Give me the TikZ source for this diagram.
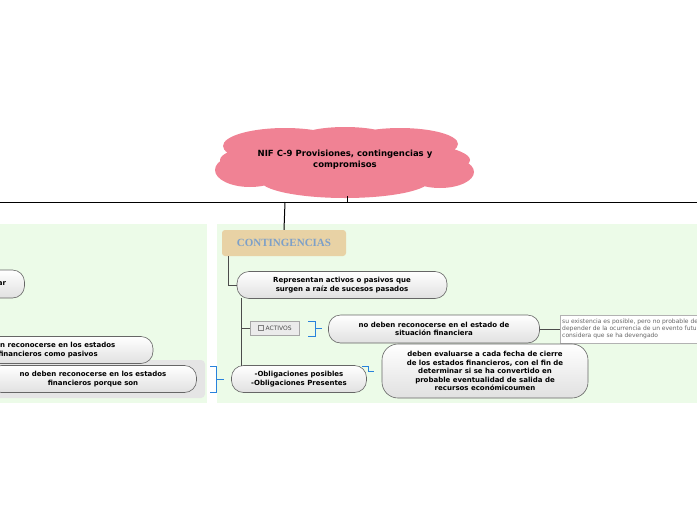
\documentclass[tikz,border=0pt]{standalone}
\usepackage{fontspec}
\setmainfont{DejaVu Sans}
\definecolor{pan}{RGB}{236,251,232}
\definecolor{pink}{RGB}{240,130,148}
\definecolor{tan}{RGB}{232,210,165}
\definecolor{cblue}{RGB}{125,160,200}
\definecolor{bbr}{RGB}{40,130,220}
\begin{document}
\begin{tikzpicture}[x=1pt,y=-1pt,
 pill/.style={draw=black!60,rounded corners=12pt,top color=white,bottom color=black!12,font=\fontsize{7}{8.5}\selectfont\bfseries,align=center,inner sep=3pt,line width=0.6pt},
 ln/.style={draw=black!70,line width=0.6pt},
 br/.style={draw=bbr,line width=1pt}]
\useasboundingbox (0,0) rectangle (697,520);
\clip (0,0) rectangle (697,520);
\fill[pan] (0,224) rectangle (207,403);
\fill[pan] (217,224) rectangle (697,403);
\fill[pink] (345,160) ellipse [x radius=125,y radius=22]
 (285,146) ellipse [x radius=62,y radius=18]
 (400,144) ellipse [x radius=58,y radius=16]
 (345,137) ellipse [x radius=45,y radius=10]
 (250,170) ellipse [x radius=35,y radius=17]
 (440,172) ellipse [x radius=34,y radius=16]
 (345,180) ellipse [x radius=85,y radius=18];
\node[align=center,font=\fontsize{8.5}{11}\selectfont\bfseries] (root) at (345,160) {NIF C-9 Provisiones, contingencias y\\compromisos};
\draw[line width=1pt] (0,202) -- (697,202);
\draw[line width=1pt] (347,196) -- (347,202);
\node[fill=tan,rounded corners=3pt,minimum width=124pt,minimum height=26pt,font=\fontsize{11}{12}\selectfont\bfseries\rmfamily,text=cblue] (cont) at (284,243) {\fontspec{Liberation Serif}CONTINGENCIAS};
\draw[line width=1pt] (285,202) -- (cont.north);
% left
\node[pill,minimum width=65pt,minimum height=28pt] (ar) at (-8,284) {\hspace*{20pt}ar};
\fill[black!10,rounded corners=4pt] (-5,360) rectangle (205,398);
\node[pill,minimum width=210pt,minimum height=27pt] (rec) at (48,350) {deben reconocerse en los estados\\financieros como pasivos};
\node[pill,minimum width=207pt,minimum height=27pt] (nod) at (93,379) {no deben reconocerse en los estados\\financieros porque son};
\draw[br] (210,366) -- (216,366) -- (216,392) -- (210,392) (216,379) -- (224,379);
% right
\node[pill,minimum width=210pt,minimum height=27pt] (rep) at (342,285) {Representan activos o pasivos que\\surgen a raíz de sucesos pasados};
\draw[ln] (228,256) |- (rep.west);
\node[pill,minimum width=135pt,minimum height=27pt] (obl) at (299,379) {-Obligaciones posibles\\-Obligaciones Presentes};
\node[draw=black!35,fill=black!8,font=\fontsize{6}{7}\selectfont,text=black!70,minimum width=49pt,minimum height=14pt,inner sep=1pt] (act) at (275,328) {\tikz\draw[black!50,line width=0.4pt] (0,0) rectangle (5pt,5pt); ACTIVOS};
\draw[ln] (241,298) -- (241,366);
\draw[ln] (241,328) -- (act.west);
\draw[br] (308,321) -- (315,321) -- (315,336) -- (308,336) (315,328) -- (322,328);
\node[pill,minimum width=211pt,minimum height=28pt] (sit) at (434,329) {no deben reconocerse en el estado de\\situación financiera};
\node[draw=black!30,fill=white,font=\fontsize{6}{7}\selectfont,text=black!60,align=left,minimum height=28pt,inner sep=2pt,anchor=west] (su) at (560,329) {su existencia es posible, pero no probable de\\depender de la ocurrencia de un evento futuro\\considera que se ha devengado};
\draw[ln] (sit.east) -- (su.west);
\draw[br] (362,366) -- (368,366) -- (368,372) (368,371) -- (374,371);
\node[pill,rounded corners=16pt,minimum width=206pt,minimum height=54pt] (ev) at (485,371) {deben evaluarse a cada fecha de cierre\\de los estados financieros, con el fin de\\determinar si se ha convertido en\\probable eventualidad de salida de\\recursos económicoumen};
\end{tikzpicture}
\end{document}
